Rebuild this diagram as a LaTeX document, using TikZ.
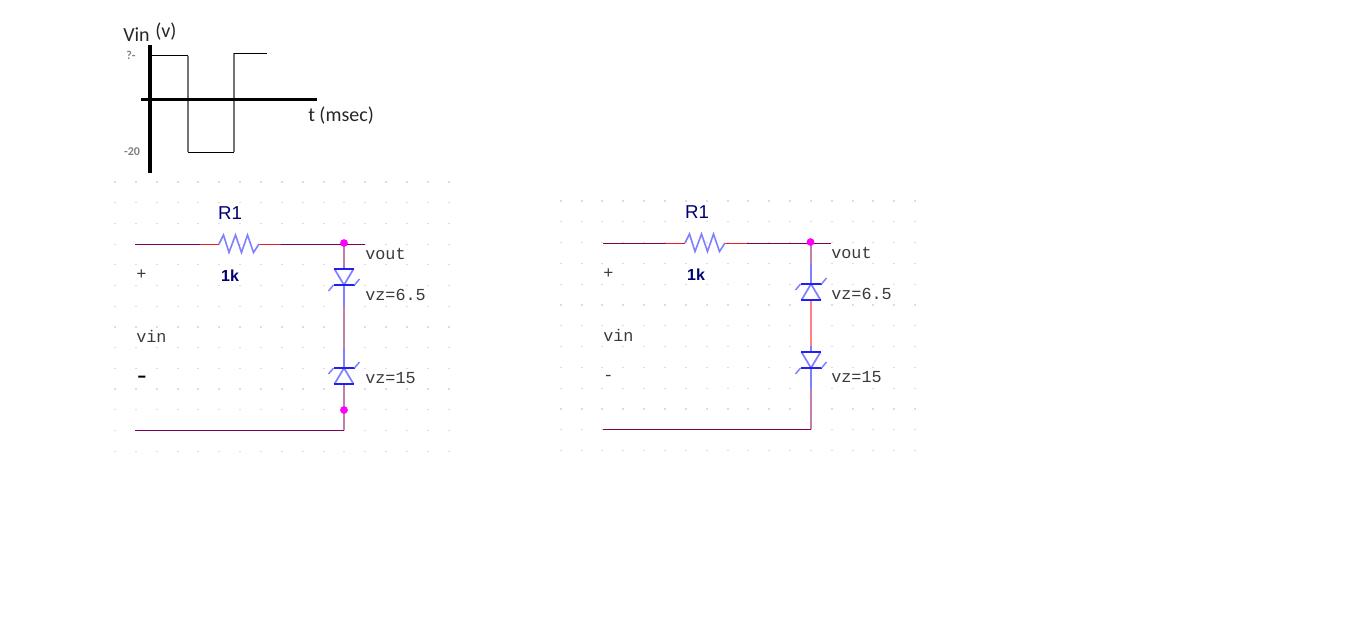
\documentclass[tikz,border=0pt]{standalone}
\usepackage{fontspec}
\setmainfont{Liberation Sans}
\setmonofont{Liberation Mono}
\newfontfamily\plotfont{Carlito}
\definecolor{wirepurple}{HTML}{7F0055}
\definecolor{wirered}{HTML}{E02020}
\definecolor{wiremauve}{HTML}{C080A8}
\definecolor{wirepink}{HTML}{FF8088}
\definecolor{partblue}{HTML}{8080FF}
\definecolor{partedge}{HTML}{2020F0}
\definecolor{textgray}{HTML}{3A3A3A}
\definecolor{griddot}{HTML}{DDDDDD}
\definecolor{junction}{HTML}{FF00FF}
\tikzstyle{wire}=[wirepurple, line width=0.75pt]
\tikzstyle{redwire}=[wirered, line width=0.75pt]
\tikzstyle{mauvewire}=[wiremauve, line width=1.5pt]
\tikzstyle{pinkwire}=[wirepink, line width=1.5pt]
\tikzstyle{bluewire}=[partblue, line width=1.5pt]
\tikzstyle{dot}=[circle, fill=junction, inner sep=0pt, minimum size=5.8pt]
\tikzstyle{spice}=[font=\ttfamily\fontsize{12.6}{14}\selectfont, text=textgray, inner sep=0pt]
\tikzstyle{part}=[font=\fontsize{14}{15}\selectfont, text=blue!45!black, inner sep=0pt]
\tikzstyle{plot}=[font=\plotfont\fontsize{15}{17}\selectfont, text=black!85, inner sep=0pt]
\tikzstyle{tick}=[font=\plotfont\bfseries\fontsize{9}{10}\selectfont, text=black!50, inner sep=0pt]
\tikzset{
	zener/.pic={
		\draw[partblue, line width=1.3pt] (-9.5,-16)--(0,0)--(9.5,-16);
		\draw[partedge, line width=0.9pt] (-10,-16)--(10,-16);
		\draw[partedge, line width=0.9pt] (-10.5,0)--(10.5,0);
		\draw[partblue, line width=1.1pt] (-10.5,0)--(-15.5,6);
		\draw[partblue, line width=1.1pt] (10.5,0)--(15.5,-6);
	},
	resistor/.pic={
		\draw[partblue, line width=1.2pt] (0,0)--(4.5,-9)--(10,8.5)--(16.5,-9)--(22.5,8.5)--(28.5,-9)--(34.5,8.5)--(40,0);
	}
}
\begin{document}
\begin{tikzpicture}[x=0.75pt, y=-0.75pt]
	\useasboundingbox (0,0) rectangle (1371,628);
	\foreach \i in {0,...,16}
		\foreach \j in {0,...,13}
			\fill[griddot] ({115+20.85*\i-1},{182+20.7*\j-0.6}) rectangle ++(2,1.2);
	\foreach \i in {0,...,17}
		\foreach \j in {0,...,12}
			\fill[griddot] ({560.7+20.85*\i-1},{201+20.8*\j-0.6}) rectangle ++(2,1.2);

	\coordinate (yTop) at (150,45);
	\coordinate (yBot) at (150,173);
	\coordinate (xLeft) at (141,99.5);
	\coordinate (xRight) at (317,99.5);
	\coordinate (w1) at (150,55.5);
	\coordinate (w2) at (188,55.5);
	\coordinate (w3) at (188,152);
	\coordinate (w4) at (234,152);
	\coordinate (w5) at (234,53);
	\coordinate (w6) at (267,53);
	\draw[black, line width=0.75pt] (w1)--(w2);
	\draw[black!55, line width=1.5pt] (w2)--(w3);
	\draw[black, line width=0.75pt] (w3)--(w4);
	\draw[black!55, line width=1.5pt] (w4)--(w5);
	\draw[black, line width=0.75pt] (w5)--(w6);
	\draw[black, line width=2.3pt] (yTop)--(yBot);
	\draw[black, line width=2.3pt] (xLeft)--(xRight);
	\node[plot, anchor=base west] (vinLabel) at (123,41) {Vin};
	\node[plot, anchor=base west] (unitLabel) at (155,37) {(v)};
	\node[plot, anchor=base west] (timeLabel) at (308,121) {t (msec)};
	\node[tick] (tickHigh) at (131,55) {?-};
	\node[tick] (tickLow) at (132,152) {-20};

	\coordinate (a1) at (135,244);
	\coordinate (a2) at (200,244);
	\coordinate (a3) at (219,244);
	\coordinate (a4) at (259,244);
	\coordinate (a5) at (281,244);
	\coordinate (a6) at (365,244);
	\coordinate (a7) at (344,265);
	\coordinate (a8) at (344,269);
	\coordinate (a9) at (344,285);
	\coordinate (a10) at (344,306);
	\coordinate (a11) at (344,348);
	\coordinate (a12) at (344,368);
	\coordinate (a13) at (344,385);
	\coordinate (a14) at (344,430);
	\coordinate (a15) at (135,430);
	\draw[wire] (a1)--(a2);
	\draw[redwire] (a2)--(a3);
	\draw[redwire] (a4)--(a5);
	\draw[wire] (a5)--(a6);
	\draw[mauvewire] (344,244)--(a7);
	\draw[bluewire] (a7)--(a8);
	\draw[bluewire] (a9)--(a10);
	\draw[mauvewire] (a10)--(a11);
	\draw[bluewire] (a11)--(a12);
	\draw[mauvewire] (a13)--(a14);
	\draw[wire] (a14)--(a15);
	\pic at (a3) {resistor};
	\pic at (a9) {zener};
	\pic[rotate=180] at (a12) {zener};
	\node[dot] (topDot) at (344,243) {};
	\node[dot] (botDot) at (344,410) {};
	\node[part] (nameA) at (230,213) {R1};
	\node[part, font=\bfseries\fontsize{12}{14}\selectfont] (valueA) at (230,276) {1k};
	\node[spice, anchor=base west] (voutA) at (365,259) {vout};
	\node[spice, anchor=base west] (zenerA) at (365,300) {vz=6.5};
	\node[spice, anchor=base west] (zenerB) at (365,383) {vz=15};
	\node[spice, anchor=base west] (plusA) at (136,279) {+};
	\node[spice, anchor=base west] (vinA) at (136,342) {vin};
	\node[spice, anchor=base west, text=black, font=\ttfamily\bfseries\fontsize{12.6}{14}\selectfont] (minusA) at (134,381) {\scalebox{1.5}[1]{-}};

	\coordinate (b1) at (603,243);
	\coordinate (b2) at (665,243);
	\coordinate (b3) at (685,243);
	\coordinate (b4) at (725,243);
	\coordinate (b5) at (747,243);
	\coordinate (b6) at (831,243);
	\coordinate (b7) at (811,264);
	\coordinate (b8) at (811,284);
	\coordinate (b9) at (811,301);
	\coordinate (b10) at (811,346);
	\coordinate (b11) at (811,352);
	\coordinate (b12) at (811,368);
	\coordinate (b13) at (811,389);
	\coordinate (b14) at (811,429);
	\coordinate (b15) at (603,429);
	\draw[wire] (b1)--(b2);
	\draw[redwire] (b2)--(b3);
	\draw[redwire] (b4)--(b5);
	\draw[wire] (b5)--(b6);
	\draw[mauvewire] (811,243)--(b7);
	\draw[bluewire] (b7)--(b8);
	\draw[pinkwire] (b9)--(b10);
	\draw[bluewire] (b10)--(b11);
	\draw[bluewire] (b12)--(b13);
	\draw[mauvewire] (b13)--(b14);
	\draw[wire] (b14)--(b15);
	\pic at (b3) {resistor};
	\pic[rotate=180] at (b8) {zener};
	\pic at (b12) {zener};
	\node[dot] (topDotB) at (810.5,242) {};
	\node[part] (nameB) at (697,212) {R1};
	\node[part, font=\bfseries\fontsize{12}{14}\selectfont] (valueB) at (696,275) {1k};
	\node[spice, anchor=base west] (voutB) at (831,258) {vout};
	\node[spice, anchor=base west] (zenerC) at (831,299) {vz=6.5};
	\node[spice, anchor=base west] (zenerD) at (831,382) {vz=15};
	\node[spice, anchor=base west] (plusB) at (603,278) {+};
	\node[spice, anchor=base west] (vinB) at (603,341) {vin};
	\node[spice, anchor=base west] (minusB) at (603,380) {-};
\end{tikzpicture}
\end{document}
